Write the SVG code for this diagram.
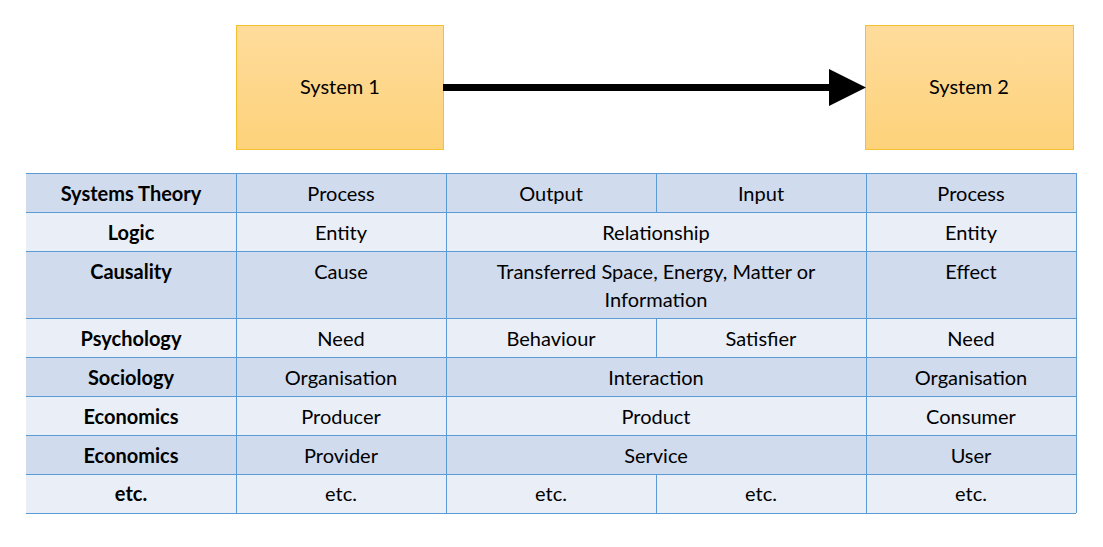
<svg xmlns="http://www.w3.org/2000/svg" width="1103" height="547" viewBox="0 0 1103 547">
<style>
text{font-family:Lato,"Liberation Sans",sans-serif;font-size:20px;fill:#000;text-anchor:middle}
.b{font-weight:bold}
.d{fill:#D0DBEE}.l{fill:#E9EEF7}
.g line{stroke:#5B9BD5;stroke-width:1}
.box{fill:url(#yg);stroke:#F5C02E;stroke-width:1}
</style>
<defs><linearGradient id="yg" x1="0" y1="0" x2="0" y2="1"><stop offset="0" stop-color="#FFDC9C"/><stop offset="1" stop-color="#FDD27A"/></linearGradient></defs>
<g id="system1"><rect class="box" x="236.5" y="25.5" width="207" height="124"/><text x="340" y="94">System 1</text></g>
<g id="system2"><rect class="box" x="865.5" y="25.5" width="208" height="124"/><text x="969" y="94">System 2</text></g>
<g id="connectors"><line x1="443" y1="87.5" x2="832" y2="87.5" stroke="#000" stroke-width="7"/><polygon points="829,69 866,87.5 829,106" fill="#000"/></g>
<g id="table">
<rect class="d" x="26" y="173" width="1050" height="39"/>
<rect class="l" x="26" y="212" width="1050" height="39"/>
<rect class="d" x="26" y="251" width="1050" height="67"/>
<rect class="l" x="26" y="318" width="1050" height="39"/>
<rect class="d" x="26" y="357" width="1050" height="39"/>
<rect class="l" x="26" y="396" width="1050" height="39"/>
<rect class="d" x="26" y="435" width="1050" height="39"/>
<rect class="l" x="26" y="474" width="1050" height="39"/>
<g class="g">
<line x1="26" y1="173.5" x2="1076" y2="173.5"/><line x1="26" y1="212.5" x2="1076" y2="212.5"/><line x1="26" y1="251.5" x2="1076" y2="251.5"/><line x1="26" y1="318.5" x2="1076" y2="318.5"/><line x1="26" y1="357.5" x2="1076" y2="357.5"/><line x1="26" y1="396.5" x2="1076" y2="396.5"/><line x1="26" y1="435.5" x2="1076" y2="435.5"/><line x1="26" y1="474.5" x2="1076" y2="474.5"/><line x1="26" y1="513.5" x2="1076" y2="513.5"/>
<line x1="236.5" y1="173" x2="236.5" y2="513"/><line x1="446.5" y1="173" x2="446.5" y2="513"/><line x1="866.5" y1="173" x2="866.5" y2="513"/><line x1="1076.5" y1="173" x2="1076.5" y2="513"/>
<line x1="656.5" y1="173" x2="656.5" y2="212"/><line x1="656.5" y1="318" x2="656.5" y2="357"/><line x1="656.5" y1="474" x2="656.5" y2="513"/>
</g>
<text class="b" x="131" y="201">Systems Theory</text><text x="341" y="201">Process</text><text x="551" y="201">Output</text><text x="761" y="201">Input</text><text x="971" y="201">Process</text>
<text class="b" x="131" y="240">Logic</text><text x="341" y="240">Entity</text><text x="656" y="240">Relationship</text><text x="971" y="240">Entity</text>
<text class="b" x="131" y="279">Causality</text><text x="341" y="279">Cause</text><text x="656" y="279">Transferred Space, Energy, Matter or</text><text x="656" y="307">Information</text><text x="971" y="279">Effect</text>
<text class="b" x="131" y="346">Psychology</text><text x="341" y="346">Need</text><text x="551" y="346">Behaviour</text><text x="761" y="346">Satisfier</text><text x="971" y="346">Need</text>
<text class="b" x="131" y="385">Sociology</text><text x="341" y="385">Organisation</text><text x="656" y="385">Interaction</text><text x="971" y="385">Organisation</text>
<text class="b" x="131" y="424">Economics</text><text x="341" y="424">Producer</text><text x="656" y="424">Product</text><text x="971" y="424">Consumer</text>
<text class="b" x="131" y="463">Economics</text><text x="341" y="463">Provider</text><text x="656" y="463">Service</text><text x="971" y="463">User</text>
<text class="b" x="131" y="501">etc.</text><text x="341" y="501">etc.</text><text x="551" y="501">etc.</text><text x="761" y="501">etc.</text><text x="971" y="501">etc.</text>
</g>
</svg>
